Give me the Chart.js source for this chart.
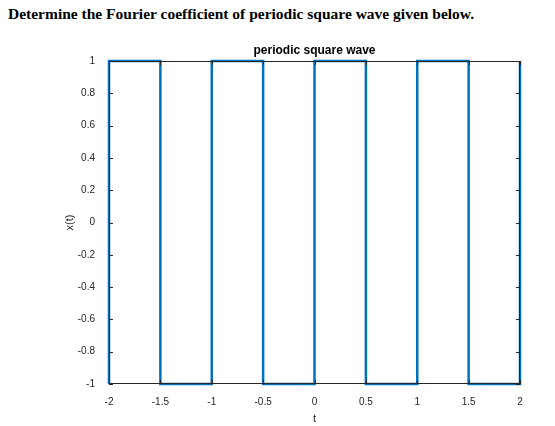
<!DOCTYPE html>
<html>
<head>
<meta charset="utf-8">
<script src="https://cdn.jsdelivr.net/npm/chart.js@4"></script>
<style>
  body { margin: 0; background: #fff; }
  #wrap { position: relative; width: 555px; height: 426px; }
  #head { position: absolute; left: 8px; top: 5px; font: bold 15.5px "Liberation Serif", serif; color: #000; }
  canvas { position: absolute; left: 0; top: 0; }
</style>
</head>
<body>
<div id="wrap">
  <div id="head">Determine the Fourier coefficient of periodic square wave given below.</div>
  <canvas id="wave" width="555" height="426"></canvas>
</div>
<script>
// square wave corner points
const tPoints = [-2, -2, -1.5, -1.5, -1, -1, -0.5, -0.5, 0, 0, 0.5, 0.5, 1, 1, 1.5, 1.5, 2, 2];
const xPoints = [-1, 1, 1, -1, -1, 1, 1, -1, -1, 1, 1, -1, -1, 1, 1, -1, -1, 1];
const xTicks = [-2, -1.5, -1, -0.5, 0, 0.5, 1, 1.5, 2];
const yTicks = [-1, -0.8, -0.6, -0.4, -0.2, 0, 0.2, 0.4, 0.6, 0.8, 1];
const font = 'Arial, "Liberation Sans"';

// MATLAB style box with inward ticks, title and y label
const boxTicks = {
    id: 'boxTicks',
    afterDraw(chart) {
        const { ctx, chartArea: a, scales } = chart;
        ctx.save();
        ctx.strokeStyle = '#262626';
        ctx.lineWidth = 1;
        ctx.strokeRect(a.left + 0.5, a.top + 0.5, a.right - a.left - 1, a.bottom - a.top - 1);
        ctx.beginPath();
        xTicks.forEach(v => {
            const px = Math.round(scales.x.getPixelForValue(v)) + 0.5;
            ctx.moveTo(px, a.bottom); ctx.lineTo(px, a.bottom - 4);
            ctx.moveTo(px, a.top); ctx.lineTo(px, a.top + 4);
        });
        yTicks.forEach(v => {
            const py = Math.round(scales.y.getPixelForValue(v)) + 0.5;
            ctx.moveTo(a.left, py); ctx.lineTo(a.left + 4, py);
            ctx.moveTo(a.right, py); ctx.lineTo(a.right - 4, py);
        });
        ctx.stroke();
        ctx.fillStyle = '#000';
        ctx.textAlign = 'center';
        ctx.textBaseline = 'bottom';
        ctx.font = 'bold 12px ' + font;
        ctx.fillText('periodic square wave', (a.left + a.right) / 2, a.top - 4);
        ctx.fillStyle = '#262626';
        ctx.font = '11px ' + font;
        ctx.translate(70, (a.top + a.bottom) / 2);
        ctx.rotate(-Math.PI / 2);
        ctx.textBaseline = 'middle';
        ctx.fillText('x(t)', 0, 0);
        ctx.restore();
    }
};

new Chart(document.getElementById('wave'), {
    type: 'scatter',
    data: {
        datasets: [{
            data: tPoints.map((t, i) => ({ x: t, y: xPoints[i] })),
            showLine: true,
            borderColor: '#0072BD',
            borderWidth: 2.5,
            pointRadius: 0,
            clip: false
        }]
    },
    options: {
        responsive: false,
        animation: false,
        layout: { padding: { left: 0, right: 35, top: 61, bottom: 0 } },
        plugins: {
            legend: { display: false },
            tooltip: { enabled: false },
            title: { display: false }
        },
        scales: {
            x: {
                type: 'linear', min: -2, max: 2,
                afterBuildTicks: s => { s.ticks = xTicks.map(v => ({ value: v })); },
                afterFit: s => { s.height = 42; },
                grid: { display: false },
                border: { display: false },
                ticks: { color: '#262626', font: { family: font, size: 10 }, padding: 4,
                         callback: v => String(Math.round(v * 10) / 10) },
                title: { display: true, text: 't', color: '#262626', font: { family: font, size: 11 }, padding: 0 }
            },
            y: {
                type: 'linear', min: -1, max: 1,
                afterBuildTicks: s => { s.ticks = yTicks.map(v => ({ value: v })); },
                afterFit: s => { s.width = 109; },
                grid: { display: false },
                border: { display: false },
                ticks: { color: '#262626', font: { family: font, size: 10 }, padding: 6,
                         callback: v => String(Math.round(v * 10) / 10) }
            }
        }
    },
    plugins: [boxTicks]
});
</script>
</body>
</html>
